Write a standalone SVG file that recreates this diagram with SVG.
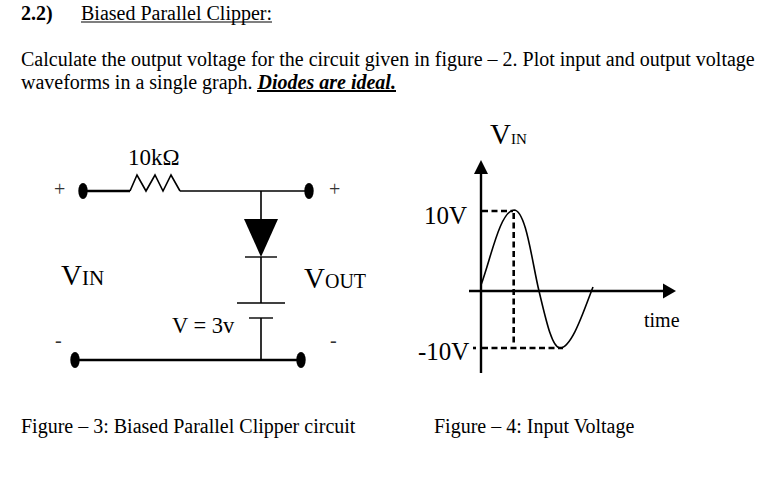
<svg xmlns="http://www.w3.org/2000/svg" width="777" height="492" viewBox="0 0 777 492">
<style>
text{font-family:"Liberation Serif","Times New Roman",serif;fill:#000}
.t{font-size:20px}
.w{fill:none;stroke:#000;stroke-width:1.6}
.k{fill:none;stroke:#000;stroke-width:2.4}
.d{fill:none;stroke:#000;stroke-width:2.6;stroke-dasharray:6 3.5}
.s{font-size:20px;fill:#333}
.n{font-size:25px}
</style>
<rect width="777" height="492" fill="#fff"/>
<g id="heading">
<text class="t" x="21" y="20" font-weight="bold">2.2)</text>
<text class="t" x="81" y="20">Biased Parallel Clipper:</text>
<line x1="81" y1="22" x2="272" y2="22" stroke="#000" stroke-width="1.2"/>
<text class="t" x="21" y="66">Calculate the output voltage for the circuit given in figure – 2. Plot input and output voltage</text>
<text class="t" x="21" y="88.500">waveforms in a single graph. <tspan font-weight="bold" font-style="italic">Diodes are ideal.</tspan></text>
<line x1="257" y1="91" x2="396" y2="91" stroke="#000" stroke-width="2"/>
</g>
<g id="connectors">
<path class="k" d="M83 191H130"/>
<path class="w" d="M180 191H309"/>
<path class="w" d="M261 191V219M261 257V303M261 318V360"/>
<path class="k" d="M75 360H301"/>
</g>
<g id="resistor">
<path class="w" d="M130 191L137 175L146 191L155 175L163 191L171 175L180 191"/>
<text x="128" y="165" font-size="23">10kΩ</text>
</g>
<g id="diode">
<path d="M244 219H278L261 257Z" fill="#000"/>
<line x1="245" y1="257" x2="277" y2="257" stroke="#000" stroke-width="1.4"/>
</g>
<g id="battery">
<line x1="237" y1="303" x2="285" y2="303" stroke="#000" stroke-width="1.400"/>
<line x1="249" y1="318" x2="273" y2="318" stroke="#000" stroke-width="1.400"/>
<text x="172" y="333" font-size="22.500">V = 3v</text>
</g>
<g id="terminal-in-top">
<ellipse cx="83" cy="191" rx="4.700" ry="8" fill="#000"/>
<text class="s" x="54" y="196">+</text>
</g>
<g id="terminal-out-top">
<ellipse cx="309" cy="191" rx="4.700" ry="8" fill="#000"/>
<text class="s" x="329" y="196">+</text>
</g>
<g id="terminal-in-bottom">
<ellipse cx="75" cy="360" rx="4.700" ry="8" fill="#000"/>
<text class="s" x="55" y="347">-</text>
</g>
<g id="terminal-out-bottom">
<ellipse cx="301" cy="360" rx="4.700" ry="8" fill="#000"/>
<text class="s" x="330" y="347">-</text>
</g>
<g id="vin-label">
<text x="61" y="285"><tspan font-size="29">V</tspan><tspan font-size="21">IN</tspan></text>
</g>
<g id="vout-label">
<text x="304" y="288"><tspan font-size="29">V</tspan><tspan font-size="20">OUT</tspan></text>
</g>
<g id="graph">
<path class="k" d="M481 172V373M469 291H665"/>
<path d="M474 174L481 160L488 174Z" fill="#000"/>
<path d="M663 283.500L676 291L663 298.500Z" fill="#000"/>
<path class="d" d="M482 211H513M513.700 213V346"/>
<path class="d" d="M482 348H563"/>
<path class="d" d="M473 348H476" stroke-dasharray="none"/>
<path class="w" d="M481 285C491 258 500 211 514 210C526 210 532 262 539 291C546 320 552 348 560 348C572 348 584 310 593 287"/>
<text x="490" y="144"><tspan font-size="29">V</tspan><tspan font-size="15">IN</tspan></text>
<text x="424" y="224" class="n">10V</text>
<text x="418" y="360" class="n">-10V</text>
<text x="644" y="327" font-size="20">time</text>
</g>
<g id="captions">
<text class="t" x="21" y="433">Figure – 3: Biased Parallel Clipper circuit</text>
<text class="t" x="434" y="433">Figure – 4: Input Voltage</text>
</g>
</svg>
